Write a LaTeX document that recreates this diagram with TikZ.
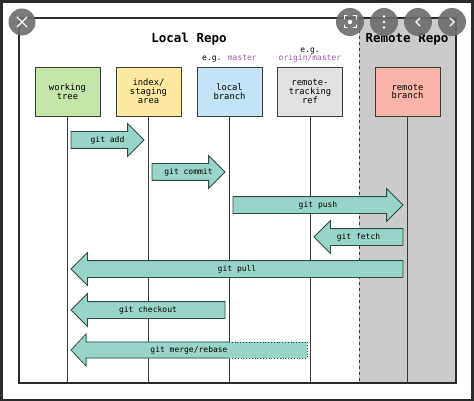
\documentclass[tikz,border=0pt]{standalone}
\usepackage{fontspec}
\setmainfont{DejaVu Sans Mono}
\usetikzlibrary{shapes.arrows}

\definecolor{screen}{HTML}{2B2B2B}
\definecolor{linegray}{HTML}{3A3A3A}
\definecolor{remotebg}{HTML}{CBCBCB}
\definecolor{treegreen}{HTML}{C6E6A9}
\definecolor{indexyellow}{HTML}{FDE9A1}
\definecolor{localblue}{HTML}{C3E3F6}
\definecolor{trackgray}{HTML}{E1E1E1}
\definecolor{remotepink}{HTML}{FBB4AC}
\definecolor{arrowfill}{HTML}{98D5C8}
\definecolor{arrowline}{HTML}{2E4A44}
\definecolor{egpurple}{HTML}{9A5FA6}
\definecolor{btngray}{HTML}{6C6C6C}

\tikzset{
  area/.style={draw=linegray, line width=0.8pt, minimum width=65pt, minimum height=49pt,
    inner sep=0pt, align=center, font=\fontsize{8.8}{8.8}\selectfont},
  life/.style={draw=linegray, line width=0.8pt},
  gitarrow/.style={single arrow, draw=arrowline, fill=arrowfill, line width=0.8pt,
    single arrow head extend=8pt, single arrow head indent=0pt,
    inner xsep=0pt, inner ysep=8pt, outer sep=0pt, anchor=tail},
  backarrow/.style={gitarrow, shape border rotate=180},
  cmd/.style={midway, inner sep=0pt, font=\fontsize{8}{8}\selectfont},
  eg/.style={align=center, font=\fontsize{8}{8.5}\selectfont, inner sep=0pt},
  title/.style={font=\fontsize{12.5}{12.5}\selectfont\bfseries},
  btn/.style={fill=btngray, opacity=0.9},
  icon/.style={draw=white, line width=1.3pt, line cap=round},
}

\begin{document}
\begin{tikzpicture}[x=1pt, y=-1pt]
\useasboundingbox (0,0) rectangle (474,401);
\fill[screen] (0,0) rectangle (474,401);
\fill[white] (3,3) rectangle (471,399);

% repos
\fill[remotebg] (359,18) rectangle (456,383);
\draw[linegray, line width=0.8pt, dashed] (359,18) -- (359,383);
\draw[screen, line width=1.2pt] (19,18) rectangle (456,383);
\node[title] (localrepo) at (189,39) {Local Repo};
\node[title] (remoterepo) at (407,39) {Remote Repo};

\coordinate (bottom) at (0,383);

% areas
\node[area, fill=treegreen] (wt) at (67.5,91.5) {working\\tree};
\node[area, fill=indexyellow] (idx) at (148.5,91.5) {index/\\staging\\area};
\node[area, fill=localblue] (lb) at (229.5,91.5) {local\\branch};
\node[area, fill=trackgray] (rtr) at (310,91.5) {remote-\\tracking\\ref};
\node[area, fill=remotepink] (rb) at (407.5,91.5) {remote\\branch};

\node[eg] (egmaster) at (229.5,59) {e.g. \textcolor{egpurple}{master}};
\node[eg] (egorigin) at (310,55) {e.g.\\\textcolor{egpurple}{origin/master}};

\foreach \a in {wt,idx,lb,rtr,rb}
  \draw[life] (\a.south) -- (\a.south |- bottom);

% commands
\node[gitarrow, minimum height=73pt] (add) at (71,140) {};
\node[gitarrow, minimum height=73pt] (commit) at (152,172) {};
\node[gitarrow, minimum height=170pt] (push) at (233,205) {};
\node[backarrow, minimum height=89pt] (fetch) at (403,237) {};
\node[backarrow, minimum height=332pt] (pull) at (403,269) {};
\node[backarrow, minimum height=154pt] (checkout) at (225,310) {};
\node[backarrow, minimum height=236pt, draw=none] (merge) at (307,350) {};
\draw[arrowline, line width=0.8pt] (229,342) -- (86,342) -- (86,334) -- (71,350)
  -- (86,366) -- (86,358) -- (229,358);
\draw[arrowline, line width=0.8pt, dotted] (229,342) -- (307,342) -- (307,358) -- (229,358);

\foreach \c/\t in {add/git add, commit/git commit, push/git push, fetch/git fetch,
    pull/git pull, checkout/git checkout, merge/git merge\slash rebase}
  \path (\c.tail) -- (\c.tip) node[cmd] (\c-text) {\t};

% viewer buttons
\fill[btn] (22,22) circle (13.5);
\draw[icon] (17,17) -- (27,27) (17,27) -- (27,17);
\fill[btn] (350,22) circle (14);
\draw[icon, line width=1pt] (344,19) -- (344,16) -- (347,16) (353,16) -- (356,16) -- (356,19)
  (356,25) -- (356,28) -- (353,28) (347,28) -- (344,28) -- (344,25);
\fill[white] (350,22) circle (2.2);
\fill[btn] (384,22) circle (14);
\foreach \d in {16.5,22,27.5}
  \fill[white] (384,\d) circle (1.4);
\fill[btn] (418,22) circle (14);
\draw[icon] (420,18) -- (416,22) -- (420,26);
\fill[btn] (452,22) circle (14);
\draw[icon] (450,18) -- (454,22) -- (450,26);
\end{tikzpicture}
\end{document}
